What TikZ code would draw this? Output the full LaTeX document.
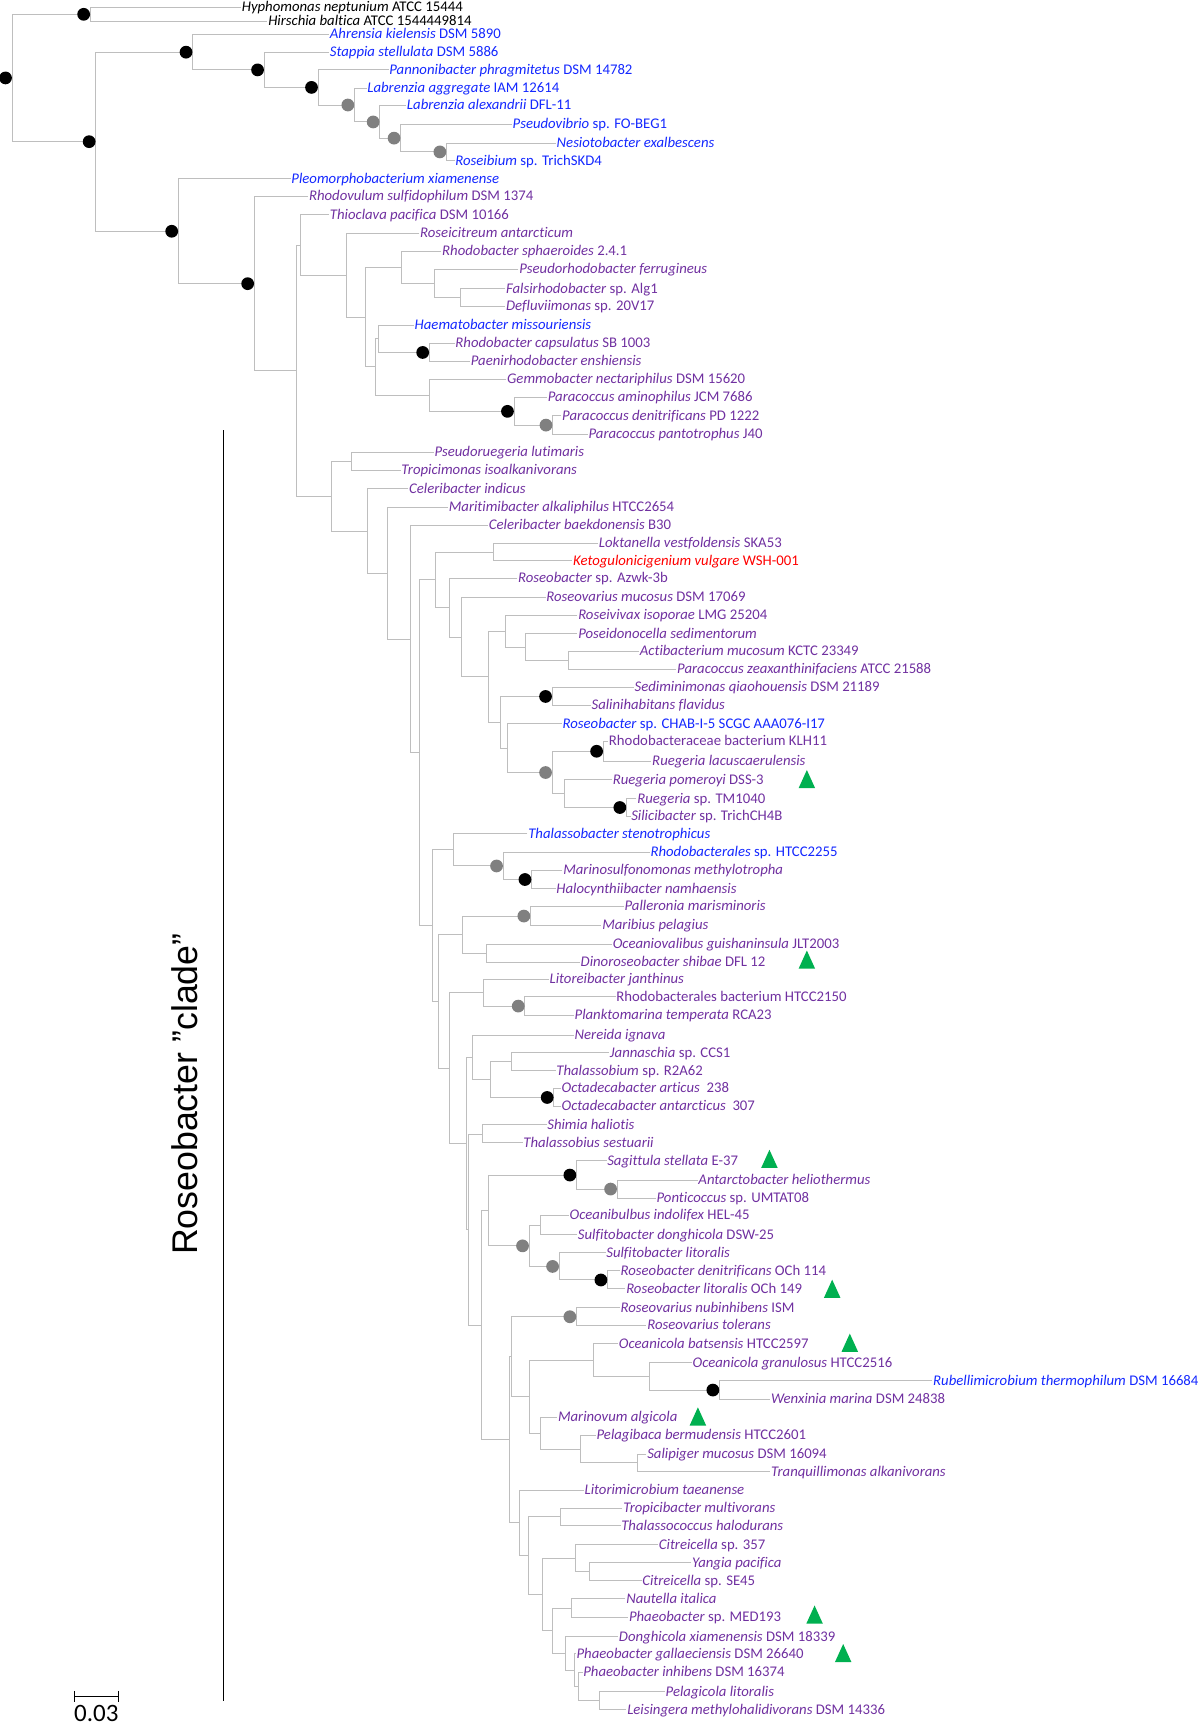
\documentclass[tikz,border=0pt]{standalone}
\usepackage{fontspec}
\setmainfont{Carlito}[Ligatures=CommonOff]
\newfontfamily\cladefont{Liberation Sans}
\usetikzlibrary{positioning, arrows.meta}
\definecolor{leafblue}{RGB}{20,40,255}
\definecolor{leafpurple}{RGB}{112,48,160}
\definecolor{leafred}{RGB}{255,0,0}
\definecolor{markgreen}{RGB}{0,176,80}
\definecolor{branchgray}{RGB}{190,190,190}
\definecolor{dotgray}{RGB}{128,128,128}
\newcommand{\leafsize}{\fontsize{14.75}{17}\selectfont}
\newcommand{\dotradius}{5.8}

\begin{document}
\begin{tikzpicture}[x=1.1009pt, y=-1.1009pt,
    branch/.style={draw=branchgray, line width=1pt},
    lf/.style={anchor=west, inner xsep=0.6pt, inner ysep=0pt, text height=9.6pt, text depth=1pt, font=\leafsize, text=leafpurple},
    lfb/.style={lf, text=leafblue},
    lfk/.style={lf, text=black},
    lfr/.style={lf, text=leafred},
    blackdot/.style={fill=black},
    graydot/.style={fill=dotgray},
    marker/.style={fill=markgreen},
    scalebar/.style={draw=black, line width=1.2pt, {Bar[width=11pt]}-{Bar[width=11pt]}},
    cladebar/.style={draw=black, line width=1.3pt}]
\useasboundingbox (0,0) rectangle (1090,1568);

% leaves, outgroups
\node[lfk] (hyph) at (219,6.5) {\textit{Hyphomonas neptunium} ATCC 15444};
\node[lfk] (hirs) at (243,19.5) {\textit{Hirschia baltica} ATCC 1544449814};
\node[lfb] (ahre) at (299,31.5) {\textit{Ahrensia kielensis} DSM 5890};
\node[lfb] (stap) at (299,47.5) {\textit{Stappia stellulata} DSM 5886};
\node[lfb] (pann) at (353,63.5) {\textit{Pannonibacter phragmitetus} DSM 14782};
\node[lfb] (laag) at (333,80) {\textit{Labrenzia aggregate} IAM 12614};
\node[lfb] (laal) at (369,96) {\textit{Labrenzia alexandrii} DFL-11};
\node[lfb] (pseu) at (465,113) {\textit{Pseudovibrio} sp. FO-BEG1};
\node[lfb] (nesi) at (505,130) {\textit{Nesiotobacter exalbescens}};
\node[lfb] (rosb) at (413,146) {\textit{Roseibium} sp. TrichSKD4};
\node[lfb] (pleo) at (264,162.5) {\textit{Pleomorphobacterium xiamenense}};
\node[lf] (rhdv) at (280,178.5) {\textit{Rhodovulum sulfidophilum} DSM 1374};
\node[lf] (thio) at (299,195.3) {\textit{Thioclava pacifica} DSM 10166};
\node[lf] (rsct) at (381,212) {\textit{Roseicitreum antarcticum}};
\node[lf] (rsph) at (401,228.6) {\textit{Rhodobacter sphaeroides} 2.4.1};
\node[lf] (psrh) at (471,245) {\textit{Pseudorhodobacter ferrugineus}};
\node[lf] (fals) at (459,262.5) {\textit{Falsirhodobacter} sp. Alg1};
\node[lf] (defl) at (459,278.6) {\textit{Defluviimonas} sp. 20V17};
\node[lfb] (haem) at (376,295.3) {\textit{Haematobacter missouriensis}};
\node[lf] (rcap) at (413,311.8) {\textit{Rhodobacter capsulatus} SB 1003};
\node[lf] (paen) at (427,328.5) {\textit{Paenirhodobacter enshiensis}};
\node[lf] (gemm) at (460,344.6) {\textit{Gemmobacter nectariphilus} DSM 15620};
\node[lf] (pami) at (497,361.2) {\textit{Paracoccus aminophilus} JCM 7686};
\node[lf] (pden) at (510,377.9) {\textit{Paracoccus denitrificans} PD 1222};
\node[lf] (ppan) at (534,394.6) {\textit{Paracoccus pantotrophus} J40};
% leaves, Roseobacter clade
\node[lf] (psru) at (394,411.2) {\textit{Pseudoruegeria lutimaris}};
\node[lf] (trop) at (364,427.6) {\textit{Tropicimonas isoalkanivorans}};
\node[lf] (cind) at (371,444) {\textit{Celeribacter indicus}};
\node[lf] (mari) at (407,461) {\textit{Maritimibacter alkaliphilus} HTCC2654};
\node[lf] (cbae) at (443.5,477.5) {\textit{Celeribacter baekdonensis} B30};
\node[lf] (lokt) at (543.4,493.5) {\textit{Loktanella vestfoldensis} SKA53};
\node[lfr] (keto) at (520,509.5) {\textit{Ketogulonicigenium vulgare} WSH-001};
\node[lf] (azwk) at (470,525.5) {\textit{Roseobacter} sp. Azwk-3b};
\node[lf] (rmuc) at (495.6,542.5) {\textit{Roseovarius mucosus} DSM 17069};
\node[lf] (rviv) at (524.6,559) {\textit{Roseivivax isoporae} LMG 25204};
\node[lf] (psdn) at (524.6,575.8) {\textit{Poseidonocella sedimentorum}};
\node[lf] (acti) at (580.6,592) {\textit{Actibacterium mucosum} KCTC 23349};
\node[lf] (pzea) at (614.5,608) {\textit{Paracoccus zeaxanthinifaciens} ATCC 21588};
\node[lf] (sedi) at (575.8,624.3) {\textit{Sediminimonas qiaohouensis} DSM 21189};
\node[lf] (sali) at (536.7,641) {\textit{Salinihabitans flavidus}};
\node[lfb] (chab) at (510.4,657.7) {\textit{Roseobacter} sp. CHAB-I-5 SCGC AAA076-I17};
\node[lf] (klh) at (552.5,673.5) {Rhodobacteraceae bacterium KLH11};
\node[lf] (rlac) at (591.8,691.5) {\textit{Ruegeria lacuscaerulensis}};
\node[lf] (rpom) at (556,708.5) {\textit{Ruegeria pomeroyi} DSS-3};
\node[lf] (rtm) at (578.2,725.6) {\textit{Ruegeria} sp. TM1040};
\node[lf] (sili) at (572.8,741.5) {\textit{Silicibacter} sp. TrichCH4B};
\node[lfb] (tstn) at (479.2,757.5) {\textit{Thalassobacter stenotrophicus}};
\node[lfb] (h2255) at (590.3,774.4) {\textit{Rhodobacterales} sp. HTCC2255};
\node[lf] (msul) at (511,790.6) {\textit{Marinosulfonomonas methylotropha}};
\node[lf] (halo) at (504.7,807.5) {\textit{Halocynthiibacter namhaensis}};
\node[lf] (pall) at (566.7,823.6) {\textit{Palleronia marisminoris}};
\node[lf] (mrbs) at (546.4,840.9) {\textit{Maribius pelagius}};
\node[lf] (ocvl) at (556,857.8) {\textit{Oceaniovalibus guishaninsula} JLT2003};
\node[lf] (dino) at (526.8,874) {\textit{Dinoroseobacter shibae} DFL 12};
\node[lf] (litb) at (498.6,889.5) {\textit{Litoreibacter janthinus}};
\node[lf] (h2150) at (559.2,905.5) {Rhodobacterales bacterium HTCC2150};
\node[lf] (plkt) at (521.3,922.5) {\textit{Planktomarina temperata} RCA23};
\node[lf] (nere) at (521.3,940.4) {\textit{Nereida ignava}};
\node[lf] (jann) at (553.4,956.5) {\textit{Jannaschia} sp. CCS1};
\node[lf] (tsbm) at (504.7,972.7) {\textit{Thalassobium} sp. R2A62};
\node[lf] (ocar) at (509.5,988.9) {\textit{Octadecabacter articus}\ \ 238};
\node[lf] (ocan) at (509.5,1005) {\textit{Octadecabacter antarcticus}\ \ 307};
\node[lf] (shim) at (496.5,1022) {\textit{Shimia haliotis}};
\node[lf] (tsbs) at (474.7,1038.3) {\textit{Thalassobius sestuarii}};
\node[lf] (sagi) at (551,1054.7) {\textit{Sagittula stellata} E-37};
\node[lf] (antc) at (633.8,1072) {\textit{Antarctobacter heliothermus}};
\node[lf] (pont) at (595.8,1088.5) {\textit{Ponticoccus} sp. UMTAT08};
\node[lf] (ocbb) at (516.8,1104.4) {\textit{Oceanibulbus indolifex} HEL-45};
\node[lf] (sdon) at (524.3,1121.9) {\textit{Sulfitobacter donghicola} DSW-25};
\node[lf] (slit) at (550.1,1138.2) {\textit{Sulfitobacter litoralis}};
\node[lf] (rden) at (563.1,1154.6) {\textit{Roseobacter denitrificans} OCh 114};
\node[lf] (rlit) at (568.2,1170.9) {\textit{Roseobacter litoralis} OCh 149};
\node[lf] (rnub) at (563.1,1188) {\textit{Roseovarius nubinhibens} ISM};
\node[lf] (rtol) at (587.3,1204.3) {\textit{Roseovarius tolerans}};
\node[lf] (obat) at (561.6,1220.7) {\textit{Oceanicola batsensis} HTCC2597};
\node[lf] (ogra) at (628.5,1238.1) {\textit{Oceanicola granulosus} HTCC2516};
\node[lfb] (rube) at (847,1254.5) {\textit{Rubellimicrobium thermophilum} DSM 16684};
\node[lf] (wenx) at (699.8,1271) {\textit{Wenxinia marina} DSM 24838};
\node[lf] (mrnv) at (506.2,1287.5) {\textit{Marinovum algicola}};
\node[lf] (pelb) at (541.3,1304.2) {\textit{Pelagibaca bermudensis} HTCC2601};
\node[lf] (salp) at (587.3,1320.9) {\textit{Salipiger mucosus} DSM 16094};
\node[lf] (tran) at (699.8,1337) {\textit{Tranquillimonas alkanivorans}};
\node[lf] (ltrm) at (530.4,1353.6) {\textit{Litorimicrobium taeanense}};
\node[lf] (trpb) at (565.5,1370) {\textit{Tropicibacter multivorans}};
\node[lf] (thcc) at (563.7,1386.2) {\textit{Thalassococcus halodurans}};
\node[lf] (ci357) at (597.9,1403.4) {\textit{Citreicella} sp. 357};
\node[lf] (yang) at (628,1419.7) {\textit{Yangia pacifica}};
\node[lf] (cise) at (582.8,1436) {\textit{Citreicella} sp. SE45};
\node[lf] (naut) at (568.2,1452.4) {\textit{Nautella italica}};
\node[lf] (pmed) at (570.7,1469.5) {\textit{Phaeobacter} sp. MED193};
\node[lf] (dong) at (561.6,1487) {\textit{Donghicola xiamenensis} DSM 18339};
\node[lf] (pgal) at (523.1,1502.5) {\textit{Phaeobacter gallaeciensis} DSM 26640};
\node[lf] (pinh) at (529.2,1519.4) {\textit{Phaeobacter inhibens} DSM 16374};
\node[lf] (pelg) at (604,1536.9) {\textit{Pelagicola litoralis}};
\node[lf] (leis) at (569.1,1553.3) {\textit{Leisingera methylohalidivorans} DSM 14336};

% internal nodes
\coordinate (root) at (11,70.8);
\coordinate (nA) at (82,13);
\coordinate (nB) at (87,128.7);
\coordinate (nC) at (175,47.4);
\coordinate (nE) at (240,63.5);
\coordinate (nF) at (289,79.4);
\coordinate (nG) at (322,95.4);
\coordinate (nH) at (345,110.8);
\coordinate (nI) at (364,125.5);
\coordinate (nJ) at (405.6,138);
\coordinate (nD) at (162,210.1);
\coordinate (nK) at (231,257.7);
\coordinate (nL) at (269,336.9);
\coordinate (nM) at (273,222.7);
\coordinate (nN) at (315,250.2);
\coordinate (nO) at (332,288.3);
\coordinate (nP) at (365,243.2);
\coordinate (nU) at (395,257.8);
\coordinate (nV) at (418,270.5);
\coordinate (nT) at (341,333.4);
\coordinate (nQ) at (344,307.7);
\coordinate (nR) at (390,320.2);
\coordinate (nS) at (390,359.2);
\coordinate (nW) at (467,373.7);
\coordinate (nX) at (502,386.2);
\coordinate (nRC) at (301,451);
\coordinate (nY) at (319,419.4);
\coordinate (nZ) at (334,482.5);
\coordinate (nAA) at (352,520.9);
\coordinate (nAB) at (373,580.7);
\coordinate (nAC) at (380.8,683.9);
\coordinate (nAD) at (396,526.8);
\coordinate (nAF) at (448,501.5);
\coordinate (nAG) at (408.7,552.1);
\coordinate (nAH) at (419.3,578.7);
\coordinate (nAI) at (443.5,614.9);
\coordinate (nAJ) at (459.2,573.5);
\coordinate (nAN) at (477.7,587.9);
\coordinate (nAO) at (516.8,600);
\coordinate (nAK) at (454.7,656.2);
\coordinate (nAL) at (501.6,632.7);
\coordinate (nAM) at (461,679.8);
\coordinate (nAP) at (501.6,701.8);
\coordinate (nAQ) at (548,682.5);
\coordinate (nAR) at (512.5,721);
\coordinate (nAS) at (569.1,733.6);
\coordinate (nAE) at (392.6,840.9);
\coordinate (nAT) at (411.7,772.1);
\coordinate (nAV) at (457.1,786.7);
\coordinate (nAW) at (482.9,799);
\coordinate (nAU) at (398.1,909.7);
\coordinate (nAX) at (419.9,849);
\coordinate (nAY) at (481.9,832.2);
\coordinate (nAZ) at (442,865.9);
\coordinate (nBA) at (408,970.3);
\coordinate (nBB) at (439.6,901.7);
\coordinate (nBD) at (476.8,914);
\coordinate (nBC) at (423.8,1038.8);
\coordinate (nBE) at (429,960.6);
\coordinate (nBG) at (445.6,980.8);
\coordinate (nBH) at (464.7,964.6);
\coordinate (nBI) at (503.1,997);
\coordinate (nBF) at (425.3,1117);
\coordinate (nBJ) at (438,1030.2);
\coordinate (nBK) at (437.4,1203.9);
\coordinate (nBL) at (443.8,1099.7);
\coordinate (nBN) at (523.7,1067.5);
\coordinate (nBP) at (560.7,1080.2);
\coordinate (nBO) at (480.7,1131.8);
\coordinate (nBQ) at (491,1113.2);
\coordinate (nBR) at (508,1150.5);
\coordinate (nBS) at (551.9,1162.8);
\coordinate (nBM) at (462.6,1308);
\coordinate (nBT) at (464.7,1232.5);
\coordinate (nBV) at (523.7,1196.2);
\coordinate (nBW) at (480.7,1268.8);
\coordinate (nBX) at (538.9,1235.6);
\coordinate (nBZ) at (589.7,1250.5);
\coordinate (nCA) at (653.6,1262.8);
\coordinate (nBY) at (491,1302);
\coordinate (nCB) at (527.7,1316.6);
\coordinate (nCC) at (578.8,1329);
\coordinate (nBU) at (471.6,1383.5);
\coordinate (nCD) at (479.8,1413.4);
\coordinate (nCE) at (509.2,1378.1);
\coordinate (nCF) at (492.8,1448.6);
\coordinate (nCG) at (522.5,1415.6);
\coordinate (nCI) at (535.2,1427.9);
\coordinate (nCH) at (501.9,1481.6);
\coordinate (nCJ) at (519.2,1461);
\coordinate (nCK) at (514,1502.2);
\coordinate (nCL) at (522.2,1517.4);
\coordinate (nCM) at (525.8,1532.2);
\coordinate (nCN) at (544.3,1545.1);

% branches: parent/upper/lower
\foreach \p/\a/\b in {root/nA/nB, nA/hyph/hirs, nB/nC/nD, nC/ahre/nE, nE/stap/nF,
    nF/pann/nG, nG/laag/nH, nH/laal/nI, nI/pseu/nJ, nJ/nesi/rosb,
    nD/pleo/nK, nK/rhdv/nL, nL/nM/nRC, nM/thio/nN, nN/rsct/nO, nO/nP/nT,
    nP/rsph/nU, nU/psrh/nV, nV/fals/defl, nT/nQ/nS, nQ/haem/nR, nR/rcap/paen,
    nS/gemm/nW, nW/pami/nX, nX/pden/ppan,
    nRC/nY/nZ, nY/psru/trop, nZ/cind/nAA, nAA/mari/nAB, nAB/cbae/nAC,
    nAC/nAD/nAE, nAD/nAF/nAG, nAF/lokt/keto, nAG/azwk/nAH, nAH/rmuc/nAI,
    nAI/nAJ/nAK, nAJ/rviv/nAN, nAN/psdn/nAO, nAO/acti/pzea, nAK/nAL/nAM,
    nAL/sedi/sali, nAM/chab/nAP, nAP/nAQ/nAR, nAQ/klh/rlac, nAR/rpom/nAS,
    nAS/rtm/sili, nAE/nAT/nAU, nAT/tstn/nAV, nAV/h2255/nAW, nAW/msul/halo,
    nAU/nAX/nBA, nAX/nAY/nAZ, nAY/pall/mrbs, nAZ/ocvl/dino, nBA/nBB/nBC,
    nBB/litb/nBD, nBD/h2150/plkt, nBC/nBE/nBF, nBE/nere/nBG, nBG/nBH/nBI,
    nBH/jann/tsbm, nBI/ocar/ocan, nBF/nBJ/nBK, nBJ/shim/tsbs, nBK/nBL/nBM,
    nBL/nBN/nBO, nBN/sagi/nBP, nBP/antc/pont, nBO/nBQ/nBR, nBQ/ocbb/sdon,
    nBR/slit/nBS, nBS/rden/rlit, nBM/nBT/nBU, nBT/nBV/nBW, nBV/rnub/rtol,
    nBW/nBX/nBY, nBX/obat/nBZ, nBZ/ogra/nCA, nCA/rube/wenx, nBY/mrnv/nCB,
    nCB/pelb/nCC, nCC/salp/tran, nBU/ltrm/nCD, nCD/nCE/nCF, nCE/trpb/thcc,
    nCF/nCG/nCH, nCG/ci357/nCI, nCI/yang/cise, nCH/nCJ/nCK, nCJ/naut/pmed,
    nCK/dong/nCL, nCL/pgal/nCM, nCM/pinh/nCN, nCN/pelg/leis}
  \draw[branch] (\a) -| (\p) |- (\b);

% support dots
\foreach \n in {root, nA, nB, nC, nE, nF, nD, nK, nR, nW, nAL, nAQ, nAS,
    nAW, nBI, nBN, nBS, nCA}
  \fill[blackdot] (\n) ++(-6,0) circle (\dotradius);
\foreach \n in {nG, nH, nI, nJ, nX, nAP, nAV, nAY, nBD, nBP, nBO, nBR, nBV}
  \fill[graydot] (\n) ++(-6,0) circle (\dotradius);

% green markers
\coordinate (tpom) at (733,708);
\coordinate (tdino) at (733,872);
\coordinate (tsagi) at (699,1053);
\coordinate (trlit) at (756,1171);
\coordinate (tobat) at (772,1220);
\coordinate (tmrnv) at (634,1287);
\coordinate (tpmed) at (740,1467);
\coordinate (tpgal) at (766,1502);
\foreach \t in {tpom, tdino, tsagi, trlit, tobat, tmrnv, tpmed, tpgal}
  \fill[marker] (\t) ++(-7.5,8) -- ++(7.5,-16.5) -- ++(7.5,16.5) -- cycle;

% clade bar
\coordinate (cladetop) at (203,391);
\coordinate (cladebot) at (203,1545);
\draw[cladebar] (cladetop) -- (cladebot);
\node[rotate=90, font=\cladefont\fontsize{35.7}{40}\selectfont] (cladename) at (168,994) {Roseobacter ”clade”};

% scale bar
\coordinate (sbleft) at (67,1541);
\coordinate (sbright) at (108,1541);
\draw[scalebar] (sbleft) -- (sbright);
\node[font=\fontsize{25}{27}\selectfont, inner sep=0pt] (sblabel) at (87.5,1557) {0.03};
\end{tikzpicture}
\end{document}
